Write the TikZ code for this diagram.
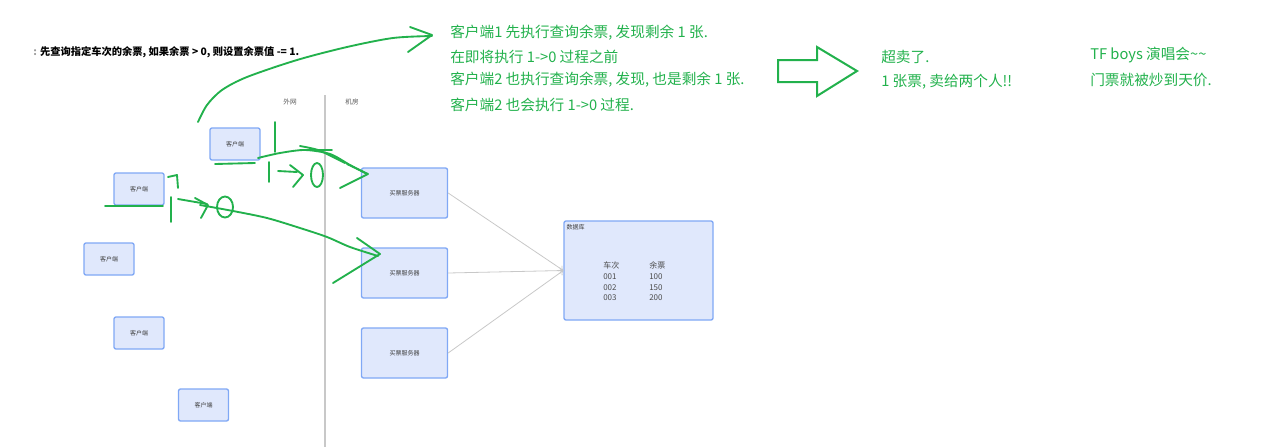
\documentclass[tikz,border=0pt]{standalone}
\usepackage{fontspec}
\newfontfamily\cjk{Noto Sans CJK SC}
\usetikzlibrary{arrows.meta}
\definecolor{penc}{RGB}{34,177,76}
\definecolor{boxfill}{RGB}{224,232,252}
\definecolor{boxline}{RGB}{128,168,245}
\definecolor{wiregrey}{RGB}{200,200,200}
\tikzstyle{client}=[draw=boxline, fill=boxfill, line width=1pt, rounded corners=1.5pt, minimum width=37.5pt, minimum height=24pt, inner sep=0pt, text=black!75, font=\cjk\fontsize{4.5pt}{5pt}\selectfont]
\tikzstyle{server}=[client, minimum width=64.5pt, minimum height=37.5pt]
\tikzstyle{store}=[client, minimum width=111.75pt, minimum height=74.25pt]
\tikzstyle{note}=[anchor=west, inner sep=0pt, text=penc, font=\cjk\fontsize{11pt}{12pt}\selectfont]
\tikzstyle{cell}=[anchor=west, inner sep=0pt, text=black!70, font=\cjk\fontsize{6pt}{7pt}\selectfont]
\tikzstyle{zone}=[inner sep=0pt, text=black!65, font=\cjk\fontsize{5pt}{6pt}\selectfont]
\tikzstyle{scribble}=[draw=penc, line width=1.4pt, line cap=round, line join=round]
\tikzstyle{link}=[draw=wiregrey, line width=0.6pt, -{To[length=3pt,width=5pt]}]

\begin{document}
\begin{tikzpicture}[x=0.75pt, y=-0.75pt]
\useasboundingbox (0,0) rectangle (1280,447);

% task line
\node[anchor=west, inner sep=0pt, font=\cjk\bfseries\fontsize{7.7pt}{9pt}\selectfont] (task) at (33,52) {{\color{black!40}:} 先查询指定车次的余票, 如果余票 > 0, 则设置余票值 -= 1.};

% divider
\draw[wiregrey, line width=0.8pt] (325,95) -- (325,447);
\node[zone] (outer) at (290,102) {外网};
\node[zone] (room) at (352,102) {机房};

% clients
\node[client] (client1) at (235,144) {客户端};
\node[client] (client2) at (139,189) {客户端};
\node[client] (client3) at (109,259) {客户端};
\node[client] (client4) at (139,333) {客户端};
\node[client] (client5) at (203.5,405) {客户端};

% servers
\node[server] (server1) at (404.5,193) {买票服务器};
\node[server] (server2) at (404.5,273) {买票服务器};
\node[server] (server3) at (404.5,353) {买票服务器};

% database
\node[store] (db) at (638.5,270.5) {};
\node[anchor=north west, inner sep=0pt, text=black!75, font=\cjk\fontsize{4.5pt}{5pt}\selectfont] (dblabel) at ([shift={(3,4)}] db.north west) {数据库};
\node[cell] (train) at (603,265) {车次};
\node[cell] (left) at (649,265) {余票};
\node[cell] (no1) at (603,277) {001};
\node[cell] (left1) at (649,277) {100};
\node[cell] (no2) at (603,288) {002};
\node[cell] (left2) at (649,288) {150};
\node[cell] (no3) at (603,298) {003};
\node[cell] (left3) at (649,298) {200};

\draw[link] (server1.east) -- (db.west);
\draw[link] (server2.east) -- (db.west);
\draw[link] (server3.east) -- (db.west);

% notes
\node[note] (note1) at (450,33) {客户端1 先执行查询余票, 发现剩余 1 张.};
\node[note] (note2) at (450,57) {在即将执行 1->0 过程之前};
\node[note] (note3) at (450,80) {客户端2 也执行查询余票, 发现, 也是剩余 1 张.};
\node[note] (note4) at (450,105) {客户端2 也会执行 1->0 过程.};
\node[note] (oversold1) at (881,57) {超卖了.};
\node[note] (oversold2) at (881,82) {1 张票, 卖给两个人!!};
\node[note] (tfboys1) at (1090,55) {TF boys 演唱会\textasciitilde\textasciitilde};
\node[note] (tfboys2) at (1090,80) {门票就被炒到天价.};

% big hollow arrow
\draw[penc, line width=1.5pt] (778,60) -- (817,60) -- (817,47) -- (857,71) -- (817,96) -- (817,82) -- (778,82) -- cycle;

% pen strokes
\draw[scribble] plot[smooth] coordinates {(198,122) (207,105) (222,90) (247,77) (297,60) (347,47) (393,38) (432,36)};
\draw[scribble] (410,27) -- (432,35) -- (408,52);

\draw[scribble] (215,164) -- (255,163);
\draw[scribble] (275,122) -- (275,152);
\draw[scribble] plot[smooth] coordinates {(258,158) (280,153) (305,150) (330,154) (350,165) (367,174)};
\draw[scribble] (300,150) -- (332,150);
\draw[scribble] plot[smooth] coordinates {(300,146) (318,150) (335,158) (345,163)};
\draw[scribble] (347,164) -- (368,174) -- (340,188);
\draw[scribble] (269,162) -- (269,182);
\draw[scribble] (278,171) -- (297,172);
\draw[scribble] (290,165) -- (303,175) -- (293,187);
\draw[scribble] (317,175) ellipse [x radius=6, y radius=12];

\draw[scribble] (105,206) -- (163,206);
\draw[scribble] (168,177) -- (177,175) -- (178,188);
\draw[scribble] (171,197) -- (171,222);
\draw[scribble] (178,199) -- (207,204);
\draw[scribble] (195,198) -- (208,205) -- (201,218);
\draw[scribble] (225,207) ellipse [x radius=8, y radius=10.5];
\draw[scribble] plot[smooth] coordinates {(200,205) (233,211) (267,218) (300,228) (327,237) (350,247) (378,256)};
\draw[scribble] (357,238) -- (380,254) -- (333,283);
\end{tikzpicture}
\end{document}
